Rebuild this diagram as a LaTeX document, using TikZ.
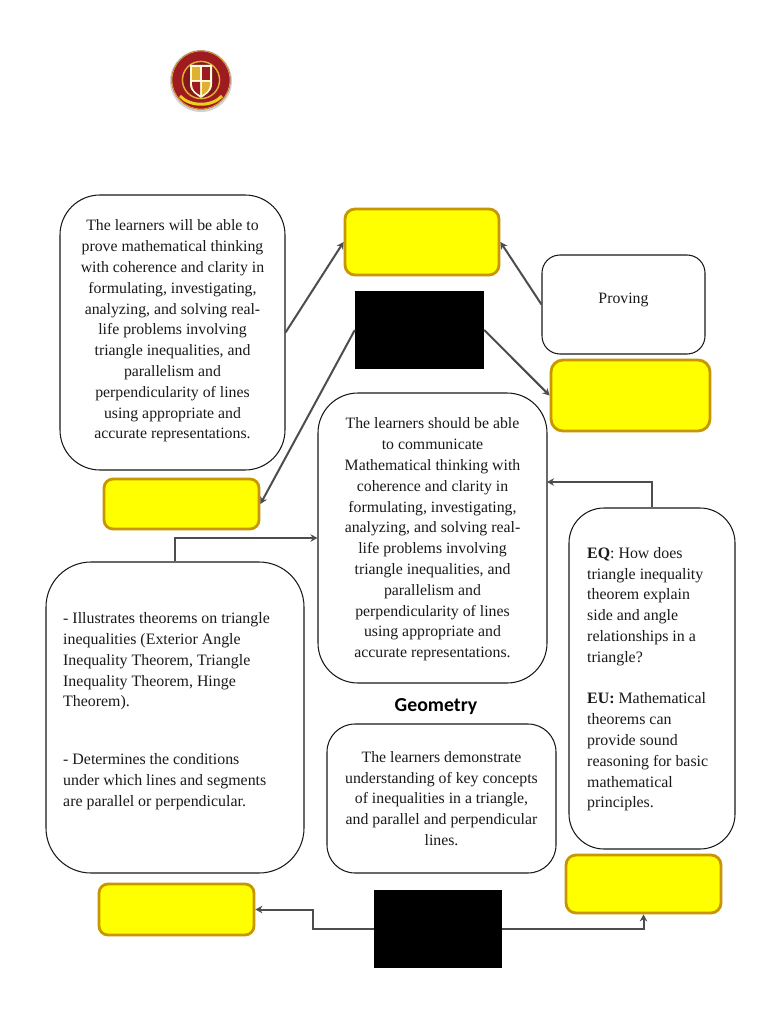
\documentclass[tikz,border=0pt]{standalone}
\usepackage{fontspec}
\setmainfont{Liberation Serif}
\newfontfamily\headfont{Carlito}
\usetikzlibrary{arrows.meta,calc}
\definecolor{goldedge}{HTML}{C89600}
\definecolor{linegrey}{HTML}{4D4D4D}
\definecolor{crest}{HTML}{9E1B22}
\definecolor{brightyellow}{RGB}{255,255,0}
\definecolor{ringgold}{HTML}{E0B030}
\definecolor{textgrey}{HTML}{1A1A1A}
\tikzset{
  pill/.style={draw=black!90,line width=1.05pt,fill=white,inner sep=0pt},
  yellowbox/.style={draw=goldedge,line width=2.8pt,fill=brightyellow,inner sep=0pt},
  blackbox/.style={draw=none,fill=black,inner sep=0pt},
  txt/.style={inner sep=0pt,align=center,text=textgrey,font=\fontsize{15.8}{20.8}\selectfont},
  txtl/.style={inner sep=0pt,align=left,anchor=north west,text=textgrey,font=\fontsize{15.9}{20.8}\selectfont},
  conn/.style={draw=linegrey,line width=2pt,-{Stealth[length=7pt,width=7.5pt]}},
}
\begin{document}
\begin{tikzpicture}[x=1pt,y=-1pt]
\useasboundingbox (0,0) rectangle (768,1024);
\fill[white] (0,0) rectangle (768,1024);

% crest
\fill[black!18] (201,81) circle (31);
\fill[crest] (201,80) circle (29.5);
\draw[ringgold,line width=0.7pt] (201,80) circle (29);
\draw[ringgold,line width=1.6pt] (201,80) circle (18.5);
\fill[crest!85!black] (201,80) circle (17.6);
\fill[white!85!yellow] (190,65) -- (212,65) -- (212,84) .. controls (212,92) and (205,95) .. (201,98) .. controls (197,95) and (190,92) .. (190,84) -- cycle;
\fill[ringgold] (192,67) rectangle (200,80);
\fill[crest] (202,67) rectangle (210,80);
\fill[crest] (192,82) -- (200,82) -- (200,95) .. controls (196,93) and (192,90) .. (192,84) -- cycle;
\fill[ringgold] (202,82) -- (210,82) -- (210,84) .. controls (210,90) and (206,93) .. (202,95) -- cycle;
\draw[ringgold!60!yellow,line width=3pt] (180,96) .. controls (190,107) and (212,107) .. (222,96);

% boxes
\node[pill,rounded corners=40pt,minimum width=225pt,minimum height=275pt] (learn) at (172.5,332.5) {};
\node[yellowbox,rounded corners=10pt,minimum width=154pt,minimum height=66pt] (ytop) at (422,242) {};
\node[blackbox,minimum width=129pt,minimum height=78pt] (blacktop) at (419.5,330) {};
\node[pill,rounded corners=18pt,minimum width=163pt,minimum height=99pt] (proving) at (623.5,304.5) {};
\node[yellowbox,rounded corners=12pt,minimum width=159pt,minimum height=71pt] (yright) at (630.5,395.5) {};
\node[pill,rounded corners=40pt,minimum width=229pt,minimum height=290pt] (comm) at (432.5,538) {};
\node[yellowbox,rounded corners=9pt,minimum width=155pt,minimum height=50pt] (yleft) at (181.5,504) {};
\node[pill,rounded corners=35pt,minimum width=166pt,minimum height=341pt] (eq) at (652,678.5) {};
\node[pill,rounded corners=45pt,minimum width=258pt,minimum height=311pt] (illus) at (175,717.5) {};
\node[pill,rounded corners=28pt,minimum width=229pt,minimum height=149pt] (demo) at (441.5,798.5) {};
\node[yellowbox,rounded corners=10pt,minimum width=155pt,minimum height=58pt] (ybr) at (643.5,884) {};
\node[yellowbox,rounded corners=9pt,minimum width=155pt,minimum height=51pt] (ybl) at (176.5,909.5) {};
\node[blackbox,minimum width=128pt,minimum height=78pt] (blackbot) at (438,929) {};

% texts
\node[txt] (learntxt) at (172.5,331) {The learners will be able to\\prove mathematical thinking\\with coherence and clarity in\\formulating, investigating,\\analyzing, and solving real-\\life problems involving\\triangle inequalities, and\\parallelism and\\perpendicularity of lines\\using appropriate and\\accurate representations.};
\node[txt] (provingtxt) at (623.5,300) {Proving};
\node[txt] (commtxt) at (432.5,539.5) {The learners should be able\\to communicate\\Mathematical thinking with\\coherence and clarity in\\formulating, investigating,\\analyzing, and solving real-\\life problems involving\\triangle inequalities, and\\parallelism and\\perpendicularity of lines\\using appropriate and\\accurate representations.};
\node[txt] (demotxt) at (441.5,798.5) {The learners demonstrate\\understanding of key concepts\\of inequalities in a triangle,\\and parallel and perpendicular\\lines.};
\node[inner sep=0pt,font=\headfont\bfseries\fontsize{19.8}{22}\selectfont] (geom) at (436,706.5) {Geometry};
\node[txtl] (eqtxt) at (587,547) {\textbf{EQ}: How does\\triangle inequality\\theorem explain\\side and angle\\relationships in a\\triangle?\\[20.8pt]\textbf{EU:} Mathematical\\theorems can\\provide sound\\reasoning for basic\\mathematical\\principles.};
\node[txtl] (illustxt) at (63,612.5) {- Illustrates theorems on triangle\\inequalities (Exterior Angle\\Inequality Theorem, Triangle\\Inequality Theorem, Hinge\\Theorem).\\[37pt]- Determines the conditions\\under which lines and segments\\are parallel or perpendicular.};

% connectors
\coordinate (commin) at (547,482);
\coordinate (bl1) at (313,929);
\coordinate (bl2) at (313,909.5);
\draw[conn] (learn.east) -- (ytop.west);
\draw[conn] (proving.west) -- (ytop.east);
\draw[conn] (blacktop.east) -- (yright.west);
\draw[conn] (blacktop.west) -- (yleft.east);
\draw[conn] (eq.north) |- (commin);
\draw[conn] (illus.north) |- (comm.west);
\draw[conn] (blackbot.west) -- (bl1) -- (bl2) -- (ybl.east);
\draw[conn] (blackbot.east) -| (ybr.south);
\end{tikzpicture}
\end{document}
